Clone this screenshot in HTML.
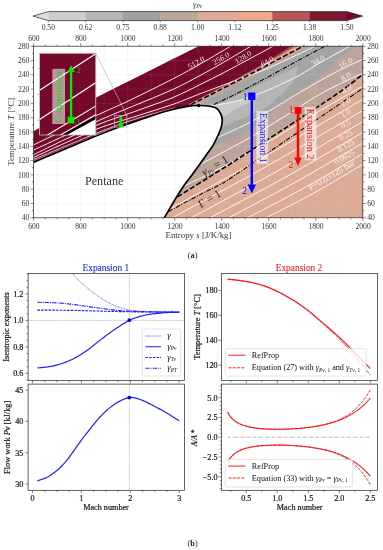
<!DOCTYPE html>
<html><head><meta charset="utf-8"><title>Pentane T-s diagram and expansions</title>
<style>html,body{margin:0;padding:0;background:#fff}svg{display:block}text{font-family:"Liberation Serif","DejaVu Serif",serif}</style></head><body>
<svg width="383" height="550" viewBox="0 0 383 550">
<rect width="383" height="550" fill="#fff"/>
<g>
<path d="M48.3,11.6 L32.9,16.1 L48.3,20.6 Z" fill="#dedede"/>
<rect x="48.3" y="11.6" width="37.62" height="9" fill="#cdcdcd"/>
<rect x="85.62" y="11.6" width="37.62" height="9" fill="#b6b6b6"/>
<rect x="122.95" y="11.6" width="37.62" height="9" fill="#a0a0a0"/>
<rect x="160.27" y="11.6" width="37.62" height="9" fill="#bca69b"/>
<rect x="197.6" y="11.6" width="37.62" height="9" fill="#dcac99"/>
<rect x="234.92" y="11.6" width="37.62" height="9" fill="#f0a88b"/>
<rect x="272.25" y="11.6" width="37.62" height="9" fill="#b5585a"/>
<rect x="309.57" y="11.6" width="37.62" height="9" fill="#80162f"/>
<path d="M346.9,11.6 L362.6,16.1 L346.9,20.6 Z" fill="#70062a"/>
<path d="M48.3,11.6 L346.9,11.6 L362.6,16.1 L346.9,20.6 L48.3,20.6 L32.9,16.1 Z" fill="none" stroke="#222" stroke-width="0.7" stroke-linejoin="miter"/>
<line x1="48.3" y1="20.6" x2="48.3" y2="22.6" stroke="#333" stroke-width="0.5"/>
<text x="48.3" y="30.2" font-size="7.6" text-anchor="middle" fill="#333">0.50</text>
<line x1="85.62" y1="20.6" x2="85.62" y2="22.6" stroke="#333" stroke-width="0.5"/>
<text x="85.62" y="30.2" font-size="7.6" text-anchor="middle" fill="#333">0.62</text>
<line x1="122.95" y1="20.6" x2="122.95" y2="22.6" stroke="#333" stroke-width="0.5"/>
<text x="122.95" y="30.2" font-size="7.6" text-anchor="middle" fill="#333">0.75</text>
<line x1="160.27" y1="20.6" x2="160.27" y2="22.6" stroke="#333" stroke-width="0.5"/>
<text x="160.27" y="30.2" font-size="7.6" text-anchor="middle" fill="#333">0.88</text>
<line x1="197.6" y1="20.6" x2="197.6" y2="22.6" stroke="#333" stroke-width="0.5"/>
<text x="197.6" y="30.2" font-size="7.6" text-anchor="middle" fill="#333">1.00</text>
<line x1="234.92" y1="20.6" x2="234.92" y2="22.6" stroke="#333" stroke-width="0.5"/>
<text x="234.92" y="30.2" font-size="7.6" text-anchor="middle" fill="#333">1.12</text>
<line x1="272.25" y1="20.6" x2="272.25" y2="22.6" stroke="#333" stroke-width="0.5"/>
<text x="272.25" y="30.2" font-size="7.6" text-anchor="middle" fill="#333">1.25</text>
<line x1="309.57" y1="20.6" x2="309.57" y2="22.6" stroke="#333" stroke-width="0.5"/>
<text x="309.57" y="30.2" font-size="7.6" text-anchor="middle" fill="#333">1.38</text>
<line x1="346.9" y1="20.6" x2="346.9" y2="22.6" stroke="#333" stroke-width="0.5"/>
<text x="346.9" y="30.2" font-size="7.6" text-anchor="middle" fill="#333">1.50</text>
<text x="193" y="6.8" font-size="8" font-style="italic" fill="#333">γ<tspan font-size="5.6" dy="1.6">Pv</tspan></text>
</g>
<defs><clipPath id="pc"><rect x="33.6" y="46.2" width="329.2" height="171.6"/></clipPath>
<linearGradient id="gr1" gradientUnits="userSpaceOnUse" x1="262" y1="56" x2="267" y2="65"><stop offset="0" stop-color="#67001f"/><stop offset="0.35" stop-color="#b2404a"/><stop offset="0.7" stop-color="#ee9f86"/><stop offset="1" stop-color="#e6bba9"/></linearGradient>
<clipPath id="nodome"><path clip-rule="evenodd" d="M0,0 H383 V550 H0 Z M33.6,162.2 C38.67,160.08 53.6,153.87 64,149.5 C74.4,145.13 87.33,139.53 96,136 C104.67,132.47 108.5,131.05 116,128.3 C123.5,125.55 132.67,122.33 141,119.5 C149.33,116.67 158.5,113.45 166,111.3 C173.5,109.15 180.58,107.57 186,106.6 C191.42,105.63 194.38,105.55 198.5,105.5 C202.62,105.45 207.62,105.78 210.7,106.3 C213.78,106.82 215.3,107.3 217,108.6 C218.7,109.9 220.02,112.13 220.9,114.1 C221.78,116.07 222.3,118.05 222.3,120.4 C222.3,122.75 221.67,125.6 220.9,128.2 C220.13,130.8 219.02,133.13 217.7,136 C216.38,138.87 214.7,142.52 213,145.4 C211.3,148.28 209.5,150.45 207.5,153.3 C205.5,156.15 203.29,159.3 201,162.5 C198.71,165.7 196.58,168.67 193.75,172.5 C190.92,176.33 186.96,181.25 184,185.5 C181.04,189.75 179.17,192.82 176,198 C172.83,203.18 166.97,213.27 165,216.6 C163.03,219.93 164.33,217.77 164.2,218 L33.6,218 Z"/></clipPath>
</defs>
<g stroke="#ececec" stroke-width="0.5">
<line x1="57.11" y1="46.2" x2="57.11" y2="217.8"/>
<line x1="80.63" y1="46.2" x2="80.63" y2="217.8"/>
<line x1="104.14" y1="46.2" x2="104.14" y2="217.8"/>
<line x1="127.66" y1="46.2" x2="127.66" y2="217.8"/>
<line x1="151.17" y1="46.2" x2="151.17" y2="217.8"/>
<line x1="174.69" y1="46.2" x2="174.69" y2="217.8"/>
<line x1="198.2" y1="46.2" x2="198.2" y2="217.8"/>
<line x1="221.71" y1="46.2" x2="221.71" y2="217.8"/>
<line x1="245.23" y1="46.2" x2="245.23" y2="217.8"/>
<line x1="268.74" y1="46.2" x2="268.74" y2="217.8"/>
<line x1="292.26" y1="46.2" x2="292.26" y2="217.8"/>
<line x1="315.77" y1="46.2" x2="315.77" y2="217.8"/>
<line x1="339.29" y1="46.2" x2="339.29" y2="217.8"/>
<line x1="33.6" y1="203.5" x2="362.8" y2="203.5"/>
<line x1="33.6" y1="189.2" x2="362.8" y2="189.2"/>
<line x1="33.6" y1="174.9" x2="362.8" y2="174.9"/>
<line x1="33.6" y1="160.6" x2="362.8" y2="160.6"/>
<line x1="33.6" y1="146.3" x2="362.8" y2="146.3"/>
<line x1="33.6" y1="132" x2="362.8" y2="132"/>
<line x1="33.6" y1="117.7" x2="362.8" y2="117.7"/>
<line x1="33.6" y1="103.4" x2="362.8" y2="103.4"/>
<line x1="33.6" y1="89.1" x2="362.8" y2="89.1"/>
<line x1="33.6" y1="74.8" x2="362.8" y2="74.8"/>
<line x1="33.6" y1="60.5" x2="362.8" y2="60.5"/>
</g>
<g clip-path="url(#pc)">
<path d="M198.5,105.5 C200.53,105.63 207.62,105.78 210.7,106.3 C213.78,106.82 215.3,107.3 217,108.6 C218.7,109.9 220.02,112.13 220.9,114.1 C221.78,116.07 222.3,118.05 222.3,120.4 C222.3,122.75 221.67,125.6 220.9,128.2 C220.13,130.8 219.02,133.13 217.7,136 C216.38,138.87 214.7,142.52 213,145.4 C211.3,148.28 209.5,150.45 207.5,153.3 C205.5,156.15 203.29,159.3 201,162.5 C198.71,165.7 196.58,168.67 193.75,172.5 C190.92,176.33 186.96,181.25 184,185.5 C181.04,189.75 179.17,192.82 176,198 C172.83,203.18 166.97,213.27 165,216.6 C163.03,219.93 164.33,217.77 164.2,218 L367.8,217.8 L367.8,41.2 L198.5,41.2 Z" fill="#dcab96"/>
<path d="M198.5,105.5 C200.53,105.63 207.62,105.78 210.7,106.3 C213.78,106.82 215.3,107.3 217,108.6 C218.7,109.9 220.02,112.13 220.9,114.1 C221.78,116.07 222.3,118.05 222.3,120.4 C222.3,122.75 221.67,125.6 220.9,128.2 C220.13,130.8 219.02,133.13 217.7,136 C216.38,138.87 214.7,142.52 213,145.4 C211.3,148.28 209.5,150.45 207.5,153.3 C205.5,156.15 203.29,159.3 201,162.5 C198.71,165.7 196.58,168.67 193.75,172.5 C190.92,176.33 186.96,181.25 184,185.5 C181.04,189.75 179.17,192.82 176,198 C172.83,203.18 166.83,213.5 165,216.6  L0,0 L0,0 Z" fill="none"/>
<path d="M198.5,105.5 C200.53,105.63 207.62,105.78 210.7,106.3 C213.78,106.82 215.3,107.3 217,108.6 C218.7,109.9 220.02,112.13 220.9,114.1 C221.78,116.07 222.3,118.05 222.3,120.4 C222.3,122.75 221.67,125.6 220.9,128.2 C220.13,130.8 219.02,133.13 217.7,136 C216.38,138.87 214.7,142.52 213,145.4 C211.3,148.28 209.5,150.45 207.5,153.3 C205.5,156.15 203.29,159.3 201,162.5 C198.71,165.7 196.58,168.67 193.75,172.5 C190.92,176.33 186.69,181.45 184,185.5 C181.31,189.55 178.67,194.92 177.6,196.8 L177.6,196.8 C184.67,192.38 210.43,176.3 220,170.3 C229.57,164.3 220.83,169.98 235,160.8 C249.17,151.62 287.5,126.7 305,115.2 C322.5,103.7 330.4,98.57 340,91.8 C349.6,85.03 357.6,78.4 362.6,74.6 C367.6,70.8 368.77,69.93 370,69 L370.8,40.2 L198.5,40.2 Z" fill="#bca49a"/>
<path d="M198.5,105.5 C200.53,105.63 207.62,105.78 210.7,106.3 C213.78,106.82 215.3,107.3 217,108.6 C218.7,109.9 220.02,112.13 220.9,114.1 C221.78,116.07 222.3,118.05 222.3,120.4 C222.3,122.75 221.67,125.6 220.9,128.2 C220.13,130.8 219.02,133.13 217.7,136 C216.38,138.87 213.87,143.57 213,145.4 C212.13,147.23 212.58,146.73 212.5,147 L212.5,147 C215.75,145.55 225.67,141.23 232,138.3 C238.33,135.37 244.67,133.03 250.5,129.4 C256.33,125.77 261.67,120.87 267,116.5 C272.33,112.13 277.83,106.93 282.5,103.2 C287.17,99.47 288.75,98.53 295,94.1 C301.25,89.67 312.83,82.37 320,76.6 C327.17,70.83 332.17,64.57 338,59.5 C343.83,54.43 351.33,49.15 355,46.2 C358.67,43.25 359.17,42.53 360,41.8 L310,42.5 L310,42.5 C308.83,43.12 308,43.57 303,46.2 C298,48.83 288.5,53.78 280,58.3 C271.5,62.82 261.83,68.13 252,73.3 C242.17,78.47 231.17,84.08 221,89.3 C210.83,94.52 196,102.05 191,104.6 Z" fill="#a4a4a4"/>
<path d="M191,104.6 C196,102.05 210.83,94.52 221,89.3 C231.17,84.08 242.17,78.47 252,73.3 C261.83,68.13 271.5,62.82 280,58.3 C288.5,53.78 298,48.83 303,46.2 C308,43.57 308.83,43.12 310,42.5 L318,42.5 C317,43.12 315,44.45 312,46.2 C309,47.95 311.17,47.12 300,53 C288.83,58.88 262.33,72.58 245,81.5 C227.67,90.42 204.17,102.33 196,106.5 Z" fill="#bca49a"/>
<path d="M212,106.2 C214.17,105.3 219.5,103.2 225,100.8 C230.5,98.4 237.5,95.3 245,91.8 C252.5,88.3 262.5,83.43 270,79.8 C277.5,76.17 285.42,72.3 290,70 C294.58,67.7 296.42,65.33 297.5,66 C298.58,66.67 297.42,71.17 296.5,74 C295.58,76.83 293.92,80.17 292,83 C290.08,85.83 287.62,88.37 285,91 C282.38,93.63 279.57,96.05 276.3,98.8 C273.03,101.55 269.78,104.8 265.4,107.5 C261.02,110.2 255.07,112.67 250,115 C244.93,117.33 239.67,119.58 235,121.5 C230.33,123.42 224.12,126.68 222,126.5 C219.88,126.32 222.48,122.47 222.3,120.4 C222.12,118.33 221.78,116.07 220.9,114.1 C220.02,112.13 217.65,109.52 217,108.6 Z" fill="#b5b5b5"/>
<path d="M214,106.6 C215.83,106.1 220.67,104.67 225,103.6 C229.33,102.53 234.5,101.55 240,100.2 C245.5,98.85 256,95.37 258,95.5 C260,95.63 255.33,98.92 252,101 C248.67,103.08 242.97,105.33 238,108 C233.03,110.67 225.05,115.98 222.2,117 C219.35,118.02 221.77,115.5 220.9,114.1 C220.03,112.7 217.65,109.52 217,108.6 Z" fill="#c9c9c9"/>
<path d="M189,104.2 C194.17,101.42 209.83,92.98 220,87.5 C230.17,82.02 240.83,76.47 250,71.3 C259.17,66.13 268.33,60.68 275,56.5 C281.67,52.32 286.5,48.62 290,46.2 C293.5,43.78 295,42.7 296,42 L297.82,42.06 C296.8,42.75 295.38,43.76 291.69,46.2 C288,48.64 282.55,52.51 275.65,56.73 C268.75,60.96 259.51,66.39 250.26,71.56 C241.01,76.73 230.3,82.29 220.13,87.73 C209.96,93.18 194.41,101.5 189.26,104.25 Z" fill="#831a34"/>
<path d="M189.2,104.24 C194.35,101.48 209.93,93.14 220.1,87.68 C230.27,82.22 240.97,76.67 250.2,71.5 C259.43,66.33 268.65,60.9 275.5,56.68 C282.35,52.46 287.65,48.64 291.3,46.2 C294.95,43.76 296.38,42.74 297.4,42.05 L299.22,42.12 C298.18,42.8 296.84,43.73 292.99,46.2 C289.14,48.67 283.24,52.65 276.15,56.91 C269.06,61.17 259.78,66.59 250.46,71.76 C241.14,76.93 230.4,82.49 220.23,87.91 C210.06,93.34 194.59,101.56 189.46,104.29 Z" fill="#983444"/>
<path d="M189.4,104.28 C194.53,101.54 210.03,93.29 220.2,87.86 C230.37,82.43 241.1,76.87 250.4,71.7 C259.7,66.53 268.97,61.11 276,56.86 C283.03,52.61 288.8,48.66 292.6,46.2 C296.4,43.74 297.77,42.78 298.8,42.1 L300.62,42.16 C299.56,42.84 298.29,43.71 294.29,46.2 C290.3,48.69 283.92,52.8 276.65,57.09 C269.38,61.39 260.05,66.79 250.66,71.96 C241.27,77.13 230.5,82.7 220.33,88.09 C210.16,93.49 194.77,101.63 189.66,104.33 Z" fill="#ae4f54"/>
<path d="M189.6,104.32 C194.72,101.61 210.13,93.44 220.3,88.04 C230.47,82.64 241.23,77.07 250.6,71.9 C259.97,66.73 269.28,61.32 276.5,57.04 C283.72,52.76 289.95,48.68 293.9,46.2 C297.85,43.72 299.15,42.83 300.2,42.15 L302.02,42.22 C300.95,42.88 299.73,43.69 295.59,46.2 C291.44,48.71 284.6,52.95 277.15,57.27 C269.69,61.6 260.31,66.99 250.86,72.16 C241.41,77.33 230.6,82.91 220.43,88.27 C210.26,93.64 194.96,101.69 189.86,104.37 Z" fill="#c16864"/>
<path d="M189.8,104.36 C194.9,101.67 210.23,93.6 220.4,88.22 C230.57,82.84 241.37,77.27 250.8,72.1 C260.23,66.93 269.6,61.54 277,57.22 C284.4,52.9 291.1,48.7 295.2,46.2 C299.3,43.7 300.53,42.87 301.6,42.2 L303.42,42.27 C302.33,42.92 301.19,43.67 296.89,46.2 C292.59,48.73 285.29,53.09 277.65,57.45 C270.01,61.81 260.58,67.19 251.06,72.36 C241.54,77.53 230.7,83.11 220.53,88.45 C210.36,93.8 195.14,101.75 190.06,104.41 Z" fill="#d38173"/>
<path d="M190,104.4 C195.08,101.73 210.33,93.75 220.5,88.4 C230.67,83.05 241.5,77.47 251,72.3 C260.5,67.13 269.92,61.75 277.5,57.4 C285.08,53.05 292.25,48.73 296.5,46.2 C300.75,43.68 301.92,42.91 303,42.25 L304.82,42.31 C303.71,42.96 302.63,43.65 298.19,46.2 C293.75,48.75 285.97,53.24 278.15,57.63 C270.33,62.03 260.85,67.39 251.26,72.56 C241.67,77.73 230.8,83.32 220.63,88.63 C210.46,93.95 195.32,101.82 190.26,104.45 Z" fill="#e69a83"/>
<path d="M190.2,104.44 C195.27,101.8 210.43,93.9 220.6,88.58 C230.77,83.26 241.63,77.67 251.2,72.5 C260.77,67.33 270.23,61.96 278,57.58 C285.77,53.2 293.4,48.75 297.8,46.2 C302.2,43.65 303.3,42.95 304.4,42.3 L306.22,42.37 C305.1,43 304.09,43.63 299.49,46.2 C294.89,48.77 286.65,53.39 278.65,57.81 C270.64,62.24 261.11,67.59 251.46,72.76 C241.81,77.93 230.9,83.53 220.73,88.81 C210.56,94.1 195.5,101.88 190.46,104.49 Z" fill="#f0ac90"/>
<path d="M190.4,104.48 C195.45,101.86 210.53,94.06 220.7,88.76 C230.87,83.46 241.77,77.87 251.4,72.7 C261.03,67.53 270.55,62.18 278.5,57.76 C286.45,53.34 294.55,48.77 299.1,46.2 C303.65,43.63 304.68,42.99 305.8,42.35 L307.62,42.41 C306.48,43.05 305.54,43.6 300.79,46.2 C296.05,48.8 287.34,53.53 279.15,57.99 C270.96,62.45 261.38,67.79 251.66,72.96 C241.94,78.13 231,83.73 220.83,88.99 C210.66,94.26 195.69,101.94 190.66,104.53 Z" fill="#f1b59b"/>
<path d="M190.6,104.52 C195.63,101.92 210.63,94.21 220.8,88.94 C230.97,83.67 241.9,78.07 251.6,72.9 C261.3,67.73 270.87,62.39 279,57.94 C287.13,53.49 295.7,48.79 300.4,46.2 C305.1,43.61 306.07,43.03 307.2,42.4 L309.02,42.47 C307.87,43.09 306.98,43.58 302.09,46.2 C297.19,48.82 288.02,53.68 279.65,58.17 C271.28,62.67 261.65,67.99 251.86,73.16 C242.07,78.33 231.1,83.94 220.93,89.17 C210.76,94.41 195.87,102.01 190.86,104.57 Z" fill="#f2bda5"/>
<path d="M190.8,104.56 C195.82,101.99 210.73,94.36 220.9,89.12 C231.07,83.88 242.03,78.27 251.8,73.1 C261.57,67.93 271.18,62.6 279.5,58.12 C287.82,53.64 296.85,48.81 301.7,46.2 C306.55,43.59 307.45,43.08 308.6,42.45 L310,42.5 C308.83,43.12 308,43.57 303,46.2 C298,48.83 288.5,53.78 280,58.3 C271.5,62.82 261.83,68.13 252,73.3 C242.17,78.47 231.17,84.08 221,89.3 C210.83,94.52 196,102.05 191,104.6 Z" fill="#f3c6b0"/>
<path d="M33.6,162.2 C38.67,160.08 53.6,153.87 64,149.5 C74.4,145.13 87.33,139.53 96,136 C104.67,132.47 108.5,131.05 116,128.3 C123.5,125.55 132.67,122.33 141,119.5 C149.33,116.67 158.5,113.45 166,111.3 C173.5,109.15 180.58,107.57 186,106.6 C191.42,105.63 196.42,105.68 198.5,105.5 L189,104.2 L189,104.2 C194.17,101.42 209.83,92.98 220,87.5 C230.17,82.02 240.83,76.47 250,71.3 C259.17,66.13 268.33,60.68 275,56.5 C281.67,52.32 286.5,48.62 290,46.2 C293.5,43.78 295,42.7 296,42 L206,42.5 C204.75,43.12 207.83,41.53 198.5,46.2 C189.17,50.87 167.03,61.93 150,70.5 C132.97,79.07 115.7,87.47 96.3,97.6 C76.9,107.73 44.05,125.68 33.6,131.3 Z" fill="#75092a"/>
<g fill="none" stroke="#fff" stroke-width="1.0" stroke-opacity="0.9" stroke-linecap="butt" clip-path="url(#nodome)">
<path d="M262.6,219.78 C263.6,219.25 259.77,221.21 268.6,216.6 C277.43,211.99 299.93,200.8 315.6,192.1 C331.27,183.4 354.1,169.42 362.6,164.4 C371.1,159.38 365.93,162.4 366.6,162"/>
<path d="M243.8,219.78 C244.8,219.25 239.4,222.1 249.8,216.6 C260.2,211.1 287.4,197.27 306.2,186.8 C325,176.33 352.53,159.7 362.6,153.8 C372.67,147.9 365.93,151.8 366.6,151.4"/>
<path d="M225,219.78 C226,219.25 219.03,222.99 231,216.6 C242.97,210.21 274.87,193.7 296.8,181.45 C318.73,169.2 350.97,149.89 362.6,143.1 C374.23,136.31 365.93,141.1 366.6,140.7"/>
<path d="M206.2,219.78 C207.2,219.25 198.67,223.87 212.2,216.6 C225.73,209.33 262.33,190.17 287.4,176.15 C312.47,162.13 349.4,140.18 362.6,132.5 C375.8,124.83 365.93,130.5 366.6,130.1"/>
<path d="M187.4,219.78 C188.4,219.25 178.3,224.78 193.4,216.6 C208.5,208.42 249.8,186.53 278,170.7 C306.2,154.87 347.83,130.18 362.6,121.6 C377.37,113.02 365.93,119.6 366.6,119.2"/>
<path d="M168.6,219.78 C169.6,219.25 157.93,225.7 174.6,216.6 C191.27,207.5 237.27,182.87 268.6,165.2 C299.93,147.53 346.27,120.1 362.6,110.6 C378.93,101.1 365.93,108.6 366.6,108.2"/>
<path d="M149.8,219.78 C150.8,219.25 137.57,226.62 155.8,216.6 C174.03,206.58 224.73,179.17 259.2,159.65 C293.67,140.13 344.7,109.92 362.6,99.5 C380.5,89.08 365.93,97.5 366.6,97.1"/>
<path d="M180,188 C181.17,187.42 183.33,186.27 187,184.5 C190.67,182.73 194.83,180.98 202,177.4 C209.17,173.82 218.67,169.1 230,163 C241.33,156.9 258.33,147.55 270,140.8 C281.67,134.05 288.33,129.47 300,122.5 C311.67,115.53 329.57,105.03 340,99 C350.43,92.97 357.93,88.97 362.6,86.3 C367.27,83.63 367.1,83.55 368,83"/>
<path d="M192,168.5 C193.57,167.72 196.73,166.25 201.4,163.8 C206.07,161.35 211.82,158.23 220,153.8 C228.18,149.37 238.83,144 250.5,137.2 C262.17,130.4 277.78,120.53 290,113 C302.22,105.47 311.7,98.63 323.8,92 C335.9,85.37 355.23,76.78 362.6,73.2 C369.97,69.62 367.1,70.95 368,70.5"/>
<path d="M205,143.5 C207.05,142.53 209.72,141.27 217.3,137.7 C224.88,134.13 240.88,127.13 250.5,122.1 C260.12,117.07 266.75,112.47 275,107.5 C283.25,102.53 290,98.13 300,92.3 C310,86.47 324.57,77.98 335,72.5 C345.43,67.02 357.1,62.02 362.6,59.4 C368.1,56.78 367.1,57.23 368,56.8"/>
<path d="M198.5,105.3 C200.42,105.32 206.87,105.45 210,105.4 C213.13,105.35 213.97,105.52 217.3,105 C220.63,104.48 225.62,103.25 230,102.3 C234.38,101.35 236.93,101.47 243.6,99.3 C250.27,97.13 263.02,92.18 270,89.3 C276.98,86.42 280.5,84.38 285.5,82 C290.5,79.62 293.92,78.4 300,75 C306.08,71.6 313.62,66.43 322,61.6 C330.38,56.77 344.8,49.1 350.3,46 C355.8,42.9 354.22,43.5 355,43"/>
<path d="M33.6,157.4 C39,154.93 54.93,147.53 66,142.6 C77.07,137.67 90,131.67 100,127.8 C110,123.93 117.67,122.07 126,119.4 C134.33,116.73 142,114.37 150,111.8 C158,109.23 165.67,107 174,104 C182.33,101 190.4,97.47 200,93.8 C209.6,90.13 220.77,86.07 231.6,82 C242.43,77.93 253.6,74.15 265,69.4 C276.4,64.65 291.62,57.4 300,53.5 C308.38,49.6 311.97,47.67 315.3,46 C318.63,44.33 319.22,43.92 320,43.5"/>
<path d="M33.6,154.7 C39,152.08 54.93,144.15 66,139 C77.07,133.85 90,127.87 100,123.8 C110,119.73 117.67,117.57 126,114.6 C134.33,111.63 142,108.92 150,106 C158,103.08 165.67,100.67 174,97.1 C182.33,93.53 191.5,88.78 200,84.6 C208.5,80.42 216.67,76.33 225,72 C233.33,67.67 241.92,62.93 250,58.6 C258.08,54.27 268.67,48.6 273.5,46 C278.33,43.4 278.08,43.5 279,43"/>
<path d="M33.6,150.1 C39,147.58 54.93,140.02 66,135 C77.07,129.98 90,124.33 100,120 C110,115.67 117.67,112.47 126,109 C134.33,105.53 142,102.55 150,99.2 C158,95.85 165.67,92.83 174,88.9 C182.33,84.97 191.5,80.17 200,75.6 C208.5,71.03 216.38,66.48 225,61.5 C233.62,56.52 246.37,48.83 251.7,45.7 C257.03,42.57 256.12,43.2 257,42.7"/>
<path d="M33.6,144.9 C39,142.32 54.93,134.58 66,129.4 C77.07,124.22 90,118.35 100,113.8 C110,109.25 117.67,106 126,102.1 C134.33,98.2 142,94.37 150,90.4 C158,86.43 166.5,82.2 174,78.3 C181.5,74.4 185.4,72.43 195,67 C204.6,61.57 224.6,49.75 231.6,45.7 C238.6,41.65 236.1,43.2 237,42.7"/>
<path d="M33.6,159.3 C39,157.08 54.93,150.58 66,146 C77.07,141.42 90,135.77 100,131.8 C110,127.83 117.67,125.07 126,122.2 C134.33,119.33 141.83,116.97 150,114.6 C158.17,112.23 170.83,109.1 175,108" stroke-width="0.8"/>
<path d="M33.6,160.7 C39,158.55 54.93,152.32 66,147.8 C77.07,143.28 94.33,135.97 100,133.6" stroke-width="0.6"/>
</g>
<path d="M191,104.6 C196,102.05 210.83,94.52 221,89.3 C231.17,84.08 242.17,78.47 252,73.3 C261.83,68.13 271.5,62.82 280,58.3 C288.5,53.78 298,48.83 303,46.2 C308,43.57 308.83,43.12 310,42.5" fill="none" stroke="#000" stroke-width="1.55" stroke-dasharray="5.2,2.2"/>
<path d="M177.6,196.8 C184.67,192.38 210.43,176.3 220,170.3 C229.57,164.3 220.83,169.98 235,160.8 C249.17,151.62 287.5,126.7 305,115.2 C322.5,103.7 330.4,98.57 340,91.8 C349.6,85.03 357.6,78.4 362.6,74.6 C367.6,70.8 368.77,69.93 370,69" fill="none" stroke="#000" stroke-width="1.55" stroke-dasharray="5.2,2.2"/>
<path d="M214,104.5 C219.17,101.97 230.67,96.8 245,89.3 C259.33,81.8 286.67,66.68 300,59.5 C313.33,52.32 319.5,49.12 325,46.2 C330.5,43.28 331.67,42.7 333,42" fill="none" stroke="#000" stroke-width="1.05" stroke-dasharray="4.6,1.5,1,1.5"/>
<path d="M168.5,211.5 C173.75,208.68 191.42,199.08 200,194.6 C208.58,190.12 214.17,187.83 220,184.6 C225.83,181.37 220.83,184.72 235,175.2 C249.17,165.68 283.73,141.93 305,127.5 C326.27,113.07 351.77,95.92 362.6,88.6 C373.43,81.28 368.77,84.43 370,83.6" fill="none" stroke="#000" stroke-width="1.05" stroke-dasharray="4.6,1.5,1,1.5"/>
</g>
<g stroke="#fff" stroke-opacity="0.16" stroke-width="0.5" clip-path="url(#pc)">
<line x1="57.11" y1="46.2" x2="57.11" y2="217.8"/>
<line x1="80.63" y1="46.2" x2="80.63" y2="217.8"/>
<line x1="104.14" y1="46.2" x2="104.14" y2="217.8"/>
<line x1="127.66" y1="46.2" x2="127.66" y2="217.8"/>
<line x1="151.17" y1="46.2" x2="151.17" y2="217.8"/>
<line x1="174.69" y1="46.2" x2="174.69" y2="217.8"/>
<line x1="198.2" y1="46.2" x2="198.2" y2="217.8"/>
<line x1="221.71" y1="46.2" x2="221.71" y2="217.8"/>
<line x1="245.23" y1="46.2" x2="245.23" y2="217.8"/>
<line x1="268.74" y1="46.2" x2="268.74" y2="217.8"/>
<line x1="292.26" y1="46.2" x2="292.26" y2="217.8"/>
<line x1="315.77" y1="46.2" x2="315.77" y2="217.8"/>
<line x1="339.29" y1="46.2" x2="339.29" y2="217.8"/>
<line x1="33.6" y1="203.5" x2="362.8" y2="203.5"/>
<line x1="33.6" y1="189.2" x2="362.8" y2="189.2"/>
<line x1="33.6" y1="174.9" x2="362.8" y2="174.9"/>
<line x1="33.6" y1="160.6" x2="362.8" y2="160.6"/>
<line x1="33.6" y1="146.3" x2="362.8" y2="146.3"/>
<line x1="33.6" y1="132" x2="362.8" y2="132"/>
<line x1="33.6" y1="117.7" x2="362.8" y2="117.7"/>
<line x1="33.6" y1="103.4" x2="362.8" y2="103.4"/>
<line x1="33.6" y1="89.1" x2="362.8" y2="89.1"/>
<line x1="33.6" y1="74.8" x2="362.8" y2="74.8"/>
<line x1="33.6" y1="60.5" x2="362.8" y2="60.5"/>
</g>
<path d="M33.6,162.2 C38.67,160.08 53.6,153.87 64,149.5 C74.4,145.13 87.33,139.53 96,136 C104.67,132.47 108.5,131.05 116,128.3 C123.5,125.55 132.67,122.33 141,119.5 C149.33,116.67 158.5,113.45 166,111.3 C173.5,109.15 180.58,107.57 186,106.6 C191.42,105.63 194.38,105.55 198.5,105.5 C202.62,105.45 207.62,105.78 210.7,106.3 C213.78,106.82 215.3,107.3 217,108.6 C218.7,109.9 220.02,112.13 220.9,114.1 C221.78,116.07 222.3,118.05 222.3,120.4 C222.3,122.75 221.67,125.6 220.9,128.2 C220.13,130.8 219.02,133.13 217.7,136 C216.38,138.87 214.7,142.52 213,145.4 C211.3,148.28 209.5,150.45 207.5,153.3 C205.5,156.15 203.29,159.3 201,162.5 C198.71,165.7 196.58,168.67 193.75,172.5 C190.92,176.33 186.96,181.25 184,185.5 C181.04,189.75 179.17,192.82 176,198 C172.83,203.18 166.97,213.27 165,216.6 C163.03,219.93 164.33,217.77 164.2,218" fill="none" stroke="#000" stroke-width="1.7" stroke-linejoin="round" clip-path="url(#pc)"/>
<circle cx="198.6" cy="105.5" r="1.7" fill="#000"/>
<text x="333" y="177.6" font-size="8.6" fill="#fff" fill-opacity="0.9" text-anchor="middle" textLength="52" lengthAdjust="spacingAndGlyphs" transform="rotate(-30.5 333 177.6)">P=0.03125 bar</text>
<text x="345.6" y="159.6" font-size="8" fill="#fff" fill-opacity="0.85" text-anchor="middle" transform="rotate(-30 345.6 159.6)">0.0625</text>
<text x="347.2" y="148" font-size="8" fill="#fff" fill-opacity="0.85" text-anchor="middle" transform="rotate(-30 347.2 148)">0.125</text>
<text x="347.2" y="137.4" font-size="8" fill="#fff" fill-opacity="0.85" text-anchor="middle" transform="rotate(-30 347.2 137.4)">0.25</text>
<text x="347.2" y="126.5" font-size="8" fill="#fff" fill-opacity="0.85" text-anchor="middle" transform="rotate(-30 347.2 126.5)">0.5</text>
<text x="347.2" y="115.5" font-size="8" fill="#fff" fill-opacity="0.85" text-anchor="middle" transform="rotate(-30 347.2 115.5)">1.0</text>
<text x="347.2" y="104.4" font-size="8" fill="#fff" fill-opacity="0.85" text-anchor="middle" transform="rotate(-30 347.2 104.4)">2.0</text>
<text x="348" y="91.8" font-size="8" fill="#fff" fill-opacity="0.85" text-anchor="middle" transform="rotate(-31 348 91.8)">4.0</text>
<text x="347.5" y="79" font-size="8.2" fill="#fff" fill-opacity="0.85" text-anchor="middle" transform="rotate(-31 347.5 79)">8.0</text>
<text x="347" y="65.5" font-size="8.4" fill="#fff" fill-opacity="0.85" text-anchor="middle" transform="rotate(-31 347 65.5)">16.0</text>
<text x="319.5" y="63" font-size="8" fill="#fff" fill-opacity="0.85" text-anchor="middle" transform="rotate(-31 319.5 63)">34.0</text>
<text x="268.5" y="64" font-size="8" fill="#fff" fill-opacity="0.85" text-anchor="middle" transform="rotate(-30 268.5 64)">64.0</text>
<text x="244.5" y="59.5" font-size="8" fill="#fff" fill-opacity="0.85" text-anchor="middle" transform="rotate(-30 244.5 59.5)">128.0</text>
<text x="222.3" y="60.8" font-size="8" fill="#fff" fill-opacity="0.85" text-anchor="middle" transform="rotate(-30 222.3 60.8)">256.0</text>
<text x="197.5" y="65" font-size="8" fill="#fff" fill-opacity="0.85" text-anchor="middle" transform="rotate(-30 197.5 65)">512.0</text>
<text x="216.8" y="168.8" font-size="11.4" fill="#222" fill-opacity="1" text-anchor="middle" transform="rotate(-31.5 216.8 168.8)"><tspan font-style="italic">γ</tspan><tspan font-size="6" dy="1.5" font-style="italic">Pv</tspan><tspan dy="-1.5"> = 1</tspan></text>
<text x="211.5" y="201.8" font-size="11.4" fill="#222" fill-opacity="1" text-anchor="middle" transform="rotate(-31.5 211.5 201.8)">Γ = 1</text>
<text x="104.2" y="185.2" font-size="12.2" fill="#333" text-anchor="middle" textLength="38.4" lengthAdjust="spacingAndGlyphs">Pentane</text>
<rect x="256.4" y="110.8" width="11.4" height="53" fill="#fff" fill-opacity="0.6"/>
<line x1="251.8" y1="96" x2="251.8" y2="186" stroke="#0000ff" stroke-width="2.4"/>
<path d="M247.6,184.6 L256,184.6 L251.8,193.6 Z" fill="#0000ff"/>
<rect x="248.2" y="92.5" width="7.2" height="7.4" fill="#0000ff"/>
<text x="245.2" y="99.6" font-size="9.6" fill="#0000ff" text-anchor="middle">1</text>
<text x="244.6" y="194.2" font-size="9.6" fill="#0000ff" text-anchor="middle">2</text>
<text transform="translate(259.7 137.8) rotate(90)" font-size="10" fill="#0000ff" fill-opacity="0.92" text-anchor="middle" textLength="50" lengthAdjust="spacingAndGlyphs">Expansion 1</text>
<rect x="304.6" y="106.8" width="11.8" height="53.4" fill="#fff" fill-opacity="0.6"/>
<line x1="298" y1="110" x2="298" y2="159" stroke="#ff0000" stroke-width="2.4"/>
<path d="M294.2,157.6 L301.8,157.6 L298,166 Z" fill="#ff0000"/>
<rect x="294.6" y="107" width="6.8" height="6.8" fill="#ff0000"/>
<text x="291.2" y="113.2" font-size="9.6" fill="#ff0000" text-anchor="middle">1</text>
<text x="290.8" y="167.8" font-size="9.6" fill="#ff0000" text-anchor="middle">2</text>
<text transform="translate(307 134) rotate(90)" font-size="10" fill="#ff0000" fill-opacity="0.92" text-anchor="middle" textLength="51" lengthAdjust="spacingAndGlyphs">Expansion 2</text>
<g fill="none" stroke="#b8b8b8" stroke-width="0.7">
<rect x="114.6" y="115.4" width="12.2" height="11.8"/>
<line x1="95.8" y1="53.2" x2="126.8" y2="115.4"/><line x1="95.8" y1="135" x2="114.6" y2="127.2"/>
</g>
<line x1="121" y1="119.5" x2="121" y2="126" stroke="#00ee00" stroke-width="1.5"/>
<path d="M118.7,120.2 L123.3,120.2 L121,115.7 Z" fill="#00ee00"/>
<rect x="118.8" y="122.6" width="4.4" height="4.4" fill="#00ee00"/>
<defs><clipPath id="ic"><rect x="39.6" y="53.2" width="56.2" height="81.8"/></clipPath></defs>
<rect x="39.6" y="53.2" width="56.2" height="81.8" fill="#fff"/>
<g clip-path="url(#ic)">
<path d="M39.6,53.2 L95.8,53.2 L95.8,117.7 L64.5,135 L39.6,135 Z" fill="#75092a"/>
<g stroke="#fff" stroke-width="1.15" fill="none">
<line x1="39.6" y1="90.2" x2="96.5" y2="53.2"/>
<line x1="39.6" y1="119.4" x2="96" y2="82.5"/>
<line x1="45" y1="136.5" x2="96" y2="105.9"/>
<line x1="58" y1="136.5" x2="96" y2="114.6"/>
</g>
<path d="M62,136.3 L97,117" stroke="#000" stroke-width="2.4" fill="none"/>
</g>
<rect x="52.3" y="68.8" width="12.8" height="55.2" fill="#fff" fill-opacity="0.55"/>
<text transform="translate(62 96.4) rotate(-90)" font-size="11.4" fill="#19e019" text-anchor="middle" textLength="52.5" lengthAdjust="spacingAndGlyphs">Compressor</text>
<line x1="71.1" y1="70.5" x2="71.1" y2="120" stroke="#00ee00" stroke-width="2.3"/>
<path d="M67.5,72 L74.7,72 L71.1,65.2 Z" fill="#00ee00"/>
<rect x="67.7" y="116.8" width="6.6" height="6.6" fill="#00ee00"/>
<text x="78.8" y="73.2" font-size="9" fill="#22a822" text-anchor="middle">2</text>
<text x="78.4" y="124.8" font-size="9" fill="#22a822" text-anchor="middle">1</text>
<g stroke="#666" stroke-width="0.5"><line x1="37.6" y1="68.4" x2="39.6" y2="68.4"/><line x1="37.6" y1="94.3" x2="39.6" y2="94.3"/><line x1="37.6" y1="120.2" x2="39.6" y2="120.2"/><line x1="45.9" y1="135" x2="45.9" y2="136.8"/><line x1="74" y1="135" x2="74" y2="136.8"/></g>
<rect x="39.6" y="53.2" width="56.2" height="81.8" fill="none" stroke="#b8b8b8" stroke-width="0.8"/>
<rect x="33.6" y="46.2" width="329.2" height="171.6" fill="none" stroke="#222" stroke-width="0.7"/>
<g stroke="#222" stroke-width="0.5">
<line x1="33.6" y1="46.2" x2="33.6" y2="43.2"/>
<line x1="33.6" y1="217.8" x2="33.6" y2="220.8"/>
<line x1="45.36" y1="46.2" x2="45.36" y2="44.6"/>
<line x1="45.36" y1="217.8" x2="45.36" y2="219.4"/>
<line x1="57.11" y1="46.2" x2="57.11" y2="44.6"/>
<line x1="57.11" y1="217.8" x2="57.11" y2="219.4"/>
<line x1="68.87" y1="46.2" x2="68.87" y2="44.6"/>
<line x1="68.87" y1="217.8" x2="68.87" y2="219.4"/>
<line x1="80.63" y1="46.2" x2="80.63" y2="43.2"/>
<line x1="80.63" y1="217.8" x2="80.63" y2="220.8"/>
<line x1="92.39" y1="46.2" x2="92.39" y2="44.6"/>
<line x1="92.39" y1="217.8" x2="92.39" y2="219.4"/>
<line x1="104.14" y1="46.2" x2="104.14" y2="44.6"/>
<line x1="104.14" y1="217.8" x2="104.14" y2="219.4"/>
<line x1="115.9" y1="46.2" x2="115.9" y2="44.6"/>
<line x1="115.9" y1="217.8" x2="115.9" y2="219.4"/>
<line x1="127.66" y1="46.2" x2="127.66" y2="43.2"/>
<line x1="127.66" y1="217.8" x2="127.66" y2="220.8"/>
<line x1="139.41" y1="46.2" x2="139.41" y2="44.6"/>
<line x1="139.41" y1="217.8" x2="139.41" y2="219.4"/>
<line x1="151.17" y1="46.2" x2="151.17" y2="44.6"/>
<line x1="151.17" y1="217.8" x2="151.17" y2="219.4"/>
<line x1="162.93" y1="46.2" x2="162.93" y2="44.6"/>
<line x1="162.93" y1="217.8" x2="162.93" y2="219.4"/>
<line x1="174.69" y1="46.2" x2="174.69" y2="43.2"/>
<line x1="174.69" y1="217.8" x2="174.69" y2="220.8"/>
<line x1="186.44" y1="46.2" x2="186.44" y2="44.6"/>
<line x1="186.44" y1="217.8" x2="186.44" y2="219.4"/>
<line x1="198.2" y1="46.2" x2="198.2" y2="44.6"/>
<line x1="198.2" y1="217.8" x2="198.2" y2="219.4"/>
<line x1="209.96" y1="46.2" x2="209.96" y2="44.6"/>
<line x1="209.96" y1="217.8" x2="209.96" y2="219.4"/>
<line x1="221.71" y1="46.2" x2="221.71" y2="43.2"/>
<line x1="221.71" y1="217.8" x2="221.71" y2="220.8"/>
<line x1="233.47" y1="46.2" x2="233.47" y2="44.6"/>
<line x1="233.47" y1="217.8" x2="233.47" y2="219.4"/>
<line x1="245.23" y1="46.2" x2="245.23" y2="44.6"/>
<line x1="245.23" y1="217.8" x2="245.23" y2="219.4"/>
<line x1="256.99" y1="46.2" x2="256.99" y2="44.6"/>
<line x1="256.99" y1="217.8" x2="256.99" y2="219.4"/>
<line x1="268.74" y1="46.2" x2="268.74" y2="43.2"/>
<line x1="268.74" y1="217.8" x2="268.74" y2="220.8"/>
<line x1="280.5" y1="46.2" x2="280.5" y2="44.6"/>
<line x1="280.5" y1="217.8" x2="280.5" y2="219.4"/>
<line x1="292.26" y1="46.2" x2="292.26" y2="44.6"/>
<line x1="292.26" y1="217.8" x2="292.26" y2="219.4"/>
<line x1="304.01" y1="46.2" x2="304.01" y2="44.6"/>
<line x1="304.01" y1="217.8" x2="304.01" y2="219.4"/>
<line x1="315.77" y1="46.2" x2="315.77" y2="43.2"/>
<line x1="315.77" y1="217.8" x2="315.77" y2="220.8"/>
<line x1="327.53" y1="46.2" x2="327.53" y2="44.6"/>
<line x1="327.53" y1="217.8" x2="327.53" y2="219.4"/>
<line x1="339.29" y1="46.2" x2="339.29" y2="44.6"/>
<line x1="339.29" y1="217.8" x2="339.29" y2="219.4"/>
<line x1="351.04" y1="46.2" x2="351.04" y2="44.6"/>
<line x1="351.04" y1="217.8" x2="351.04" y2="219.4"/>
<line x1="362.8" y1="46.2" x2="362.8" y2="43.2"/>
<line x1="362.8" y1="217.8" x2="362.8" y2="220.8"/>
<line x1="33.6" y1="217.8" x2="30.6" y2="217.8"/>
<line x1="362.8" y1="217.8" x2="365.8" y2="217.8"/>
<line x1="33.6" y1="210.65" x2="32" y2="210.65"/>
<line x1="362.8" y1="210.65" x2="364.4" y2="210.65"/>
<line x1="33.6" y1="203.5" x2="30.6" y2="203.5"/>
<line x1="362.8" y1="203.5" x2="365.8" y2="203.5"/>
<line x1="33.6" y1="196.35" x2="32" y2="196.35"/>
<line x1="362.8" y1="196.35" x2="364.4" y2="196.35"/>
<line x1="33.6" y1="189.2" x2="30.6" y2="189.2"/>
<line x1="362.8" y1="189.2" x2="365.8" y2="189.2"/>
<line x1="33.6" y1="182.05" x2="32" y2="182.05"/>
<line x1="362.8" y1="182.05" x2="364.4" y2="182.05"/>
<line x1="33.6" y1="174.9" x2="30.6" y2="174.9"/>
<line x1="362.8" y1="174.9" x2="365.8" y2="174.9"/>
<line x1="33.6" y1="167.75" x2="32" y2="167.75"/>
<line x1="362.8" y1="167.75" x2="364.4" y2="167.75"/>
<line x1="33.6" y1="160.6" x2="30.6" y2="160.6"/>
<line x1="362.8" y1="160.6" x2="365.8" y2="160.6"/>
<line x1="33.6" y1="153.45" x2="32" y2="153.45"/>
<line x1="362.8" y1="153.45" x2="364.4" y2="153.45"/>
<line x1="33.6" y1="146.3" x2="30.6" y2="146.3"/>
<line x1="362.8" y1="146.3" x2="365.8" y2="146.3"/>
<line x1="33.6" y1="139.15" x2="32" y2="139.15"/>
<line x1="362.8" y1="139.15" x2="364.4" y2="139.15"/>
<line x1="33.6" y1="132" x2="30.6" y2="132"/>
<line x1="362.8" y1="132" x2="365.8" y2="132"/>
<line x1="33.6" y1="124.85" x2="32" y2="124.85"/>
<line x1="362.8" y1="124.85" x2="364.4" y2="124.85"/>
<line x1="33.6" y1="117.7" x2="30.6" y2="117.7"/>
<line x1="362.8" y1="117.7" x2="365.8" y2="117.7"/>
<line x1="33.6" y1="110.55" x2="32" y2="110.55"/>
<line x1="362.8" y1="110.55" x2="364.4" y2="110.55"/>
<line x1="33.6" y1="103.4" x2="30.6" y2="103.4"/>
<line x1="362.8" y1="103.4" x2="365.8" y2="103.4"/>
<line x1="33.6" y1="96.25" x2="32" y2="96.25"/>
<line x1="362.8" y1="96.25" x2="364.4" y2="96.25"/>
<line x1="33.6" y1="89.1" x2="30.6" y2="89.1"/>
<line x1="362.8" y1="89.1" x2="365.8" y2="89.1"/>
<line x1="33.6" y1="81.95" x2="32" y2="81.95"/>
<line x1="362.8" y1="81.95" x2="364.4" y2="81.95"/>
<line x1="33.6" y1="74.8" x2="30.6" y2="74.8"/>
<line x1="362.8" y1="74.8" x2="365.8" y2="74.8"/>
<line x1="33.6" y1="67.65" x2="32" y2="67.65"/>
<line x1="362.8" y1="67.65" x2="364.4" y2="67.65"/>
<line x1="33.6" y1="60.5" x2="30.6" y2="60.5"/>
<line x1="362.8" y1="60.5" x2="365.8" y2="60.5"/>
<line x1="33.6" y1="53.35" x2="32" y2="53.35"/>
<line x1="362.8" y1="53.35" x2="364.4" y2="53.35"/>
<line x1="33.6" y1="46.2" x2="30.6" y2="46.2"/>
<line x1="362.8" y1="46.2" x2="365.8" y2="46.2"/>
</g>
<g font-size="7.6" fill="#333">
<text x="33.9" y="40.6" text-anchor="middle">600</text>
<text x="33.9" y="228.6" text-anchor="middle">600</text>
<text x="80.93" y="40.6" text-anchor="middle">800</text>
<text x="80.93" y="228.6" text-anchor="middle">800</text>
<text x="127.96" y="40.6" text-anchor="middle">1000</text>
<text x="127.96" y="228.6" text-anchor="middle">1000</text>
<text x="174.99" y="40.6" text-anchor="middle">1200</text>
<text x="174.99" y="228.6" text-anchor="middle">1200</text>
<text x="222.01" y="40.6" text-anchor="middle">1400</text>
<text x="222.01" y="228.6" text-anchor="middle">1400</text>
<text x="269.04" y="40.6" text-anchor="middle">1600</text>
<text x="269.04" y="228.6" text-anchor="middle">1600</text>
<text x="316.07" y="40.6" text-anchor="middle">1800</text>
<text x="316.07" y="228.6" text-anchor="middle">1800</text>
<text x="363.1" y="40.6" text-anchor="middle">2000</text>
<text x="363.1" y="228.6" text-anchor="middle">2000</text>
<text x="29.4" y="220.4" text-anchor="end">40</text>
<text x="367.2" y="220.4" text-anchor="start">40</text>
<text x="29.4" y="206.1" text-anchor="end">60</text>
<text x="367.2" y="206.1" text-anchor="start">60</text>
<text x="29.4" y="191.8" text-anchor="end">80</text>
<text x="367.2" y="191.8" text-anchor="start">80</text>
<text x="29.4" y="177.5" text-anchor="end">100</text>
<text x="367.2" y="177.5" text-anchor="start">100</text>
<text x="29.4" y="163.2" text-anchor="end">120</text>
<text x="367.2" y="163.2" text-anchor="start">120</text>
<text x="29.4" y="148.9" text-anchor="end">140</text>
<text x="367.2" y="148.9" text-anchor="start">140</text>
<text x="29.4" y="134.6" text-anchor="end">160</text>
<text x="367.2" y="134.6" text-anchor="start">160</text>
<text x="29.4" y="120.3" text-anchor="end">180</text>
<text x="367.2" y="120.3" text-anchor="start">180</text>
<text x="29.4" y="106" text-anchor="end">200</text>
<text x="367.2" y="106" text-anchor="start">200</text>
<text x="29.4" y="91.7" text-anchor="end">220</text>
<text x="367.2" y="91.7" text-anchor="start">220</text>
<text x="29.4" y="77.4" text-anchor="end">240</text>
<text x="367.2" y="77.4" text-anchor="start">240</text>
<text x="29.4" y="63.1" text-anchor="end">260</text>
<text x="367.2" y="63.1" text-anchor="start">260</text>
<text x="29.4" y="48.8" text-anchor="end">280</text>
<text x="367.2" y="48.8" text-anchor="start">280</text>
</g>
<text x="198.5" y="237.8" font-size="8.4" fill="#333" text-anchor="middle" textLength="66" lengthAdjust="spacingAndGlyphs">Entropy <tspan font-style="italic">s</tspan> [J/K/kg]</text>
<text transform="translate(14 131.8) rotate(-90)" font-size="8.4" fill="#333" text-anchor="middle" textLength="68" lengthAdjust="spacingAndGlyphs">Temperature <tspan font-style="italic">T</tspan> [°C]</text>
<text x="192.6" y="257.5" font-size="8.2" fill="#222" text-anchor="middle">(<tspan font-weight="bold">a</tspan>)</text>
<defs>
<clipPath id="c1"><rect x="28.1" y="273.5" width="156.4" height="107"/></clipPath>
<clipPath id="c2"><rect x="28.1" y="384.1" width="156.4" height="106.2"/></clipPath>
<clipPath id="c3"><rect x="221.4" y="273.5" width="156.1" height="107"/></clipPath>
<clipPath id="c4"><rect x="221.4" y="384.1" width="156.1" height="106.2"/></clipPath>
</defs>
<g clip-path="url(#c1)" fill="none">
<line x1="28.1" y1="320.4" x2="184.5" y2="320.4" stroke="#777" stroke-width="0.6" stroke-dasharray="0.8,0.9"/>
<line x1="129.3" y1="273.5" x2="129.3" y2="380.5" stroke="#777" stroke-width="0.6" stroke-dasharray="0.8,0.9"/>
<path d="M69.17,267.4 L69.33,267.69 L69.51,268.06 L69.72,268.48 L69.95,268.96 L70.21,269.48 L70.49,270.03 L70.79,270.61 L71.11,271.2 L71.46,271.8 L71.82,272.4 L72.2,272.98 L72.6,273.55 L73.03,274.11 L73.49,274.7 L73.99,275.3 L74.52,275.92 L75.06,276.54 L75.62,277.17 L76.19,277.79 L76.76,278.4 L77.33,279 L77.89,279.57 L78.43,280.13 L78.95,280.65 L79.46,281.14 L79.94,281.59 L80.42,282.03 L80.89,282.44 L81.36,282.83 L81.83,283.22 L82.3,283.61 L82.78,283.99 L83.26,284.39 L83.77,284.8 L84.28,285.23 L84.82,285.68 L85.38,286.16 L85.95,286.66 L86.54,287.17 L87.14,287.7 L87.75,288.23 L88.37,288.77 L88.99,289.3 L89.62,289.84 L90.26,290.37 L90.89,290.9 L91.52,291.41 L92.16,291.91 L92.79,292.4 L93.43,292.88 L94.07,293.36 L94.71,293.84 L95.36,294.31 L96.01,294.77 L96.66,295.23 L97.32,295.69 L97.98,296.14 L98.64,296.59 L99.31,297.03 L99.98,297.48 L100.66,297.92 L101.36,298.37 L102.06,298.81 L102.77,299.25 L103.49,299.69 L104.2,300.13 L104.91,300.55 L105.61,300.97 L106.31,301.38 L106.99,301.77 L107.65,302.15 L108.3,302.51 L108.91,302.86 L109.51,303.19 L110.09,303.51 L110.65,303.81 L111.2,304.11 L111.75,304.39 L112.29,304.67 L112.84,304.94 L113.4,305.2 L113.96,305.46 L114.54,305.71 L115.14,305.96 L115.76,306.2 L116.41,306.44 L117.06,306.68 L117.73,306.9 L118.41,307.13 L119.08,307.34 L119.76,307.55 L120.43,307.75 L121.09,307.94 L121.73,308.13 L122.36,308.31 L122.97,308.47 L123.53,308.63 L124.06,308.78 L124.55,308.92 L125.03,309.05 L125.49,309.17 L125.96,309.29 L126.44,309.4 L126.93,309.51 L127.46,309.61 L128.02,309.72 L128.64,309.82 L129.32,309.93 L130.07,310.04 L130.87,310.15 L131.72,310.26 L132.62,310.37 L133.54,310.48 L134.49,310.59 L135.44,310.69 L136.4,310.79 L137.36,310.88 L138.29,310.97 L139.2,311.05 L140.08,311.12 L140.87,311.19 L141.54,311.25 L142.14,311.3 L142.69,311.35 L143.23,311.39 L143.81,311.43 L144.45,311.47 L145.19,311.5 L146.06,311.54 L147.11,311.57 L148.36,311.61 L149.86,311.65 L151.71,311.7 L153.96,311.75 L156.51,311.8 L159.28,311.85 L162.18,311.9 L165.14,311.95 L168.06,312 L170.87,312.05 L173.47,312.09 L175.78,312.13 L177.72,312.16 L179.2,312.18" stroke="#1f1fff" stroke-width="0.8" stroke-dasharray="0.8,0.8"/>
<path d="M37.39,310.06 L38.32,310.07 L39.46,310.08 L40.79,310.08 L42.28,310.09 L43.91,310.1 L45.64,310.11 L47.46,310.12 L49.34,310.13 L51.26,310.14 L53.18,310.16 L55.09,310.18 L56.95,310.2 L58.82,310.22 L60.74,310.25 L62.72,310.27 L64.74,310.3 L66.79,310.33 L68.87,310.36 L70.96,310.4 L73.07,310.43 L75.17,310.47 L77.27,310.51 L79.35,310.55 L81.4,310.59 L83.44,310.64 L85.47,310.69 L87.51,310.75 L89.55,310.8 L91.59,310.86 L93.62,310.92 L95.66,310.98 L97.7,311.04 L99.74,311.09 L101.78,311.15 L103.81,311.21 L105.85,311.26 L107.89,311.31 L109.92,311.36 L111.96,311.41 L114,311.45 L116.04,311.5 L118.08,311.55 L120.11,311.59 L122.15,311.64 L124.19,311.68 L126.22,311.72 L128.26,311.75 L130.3,311.79 L132.34,311.82 L134.38,311.85 L136.41,311.88 L138.45,311.9 L140.49,311.92 L142.52,311.94 L144.56,311.96 L146.6,311.98 L148.64,312 L150.67,312.02 L152.71,312.04 L154.75,312.05 L156.87,312.07 L159.11,312.08 L161.44,312.1 L163.81,312.11 L166.18,312.12 L168.5,312.14 L170.75,312.15 L172.86,312.16 L174.81,312.16 L176.54,312.17 L178.02,312.18 L179.2,312.18" stroke="#1f1fff" stroke-width="1.15" stroke-dasharray="2.6,1.1"/>
<path d="M37.39,302.25 L38.1,302.26 L38.99,302.28 L40.03,302.3 L41.19,302.33 L42.46,302.35 L43.81,302.38 L45.2,302.41 L46.63,302.45 L48.05,302.49 L49.45,302.54 L50.79,302.59 L52.06,302.64 L53.28,302.71 L54.5,302.77 L55.73,302.84 L56.95,302.92 L58.17,303 L59.4,303.08 L60.62,303.17 L61.84,303.27 L63.06,303.37 L64.28,303.47 L65.51,303.59 L66.73,303.7 L67.94,303.83 L69.13,303.96 L70.31,304.09 L71.48,304.24 L72.64,304.38 L73.82,304.53 L75.01,304.69 L76.22,304.85 L77.46,305.02 L78.73,305.2 L80.04,305.38 L81.4,305.56 L82.82,305.76 L84.3,305.96 L85.84,306.18 L87.41,306.41 L89.01,306.64 L90.63,306.88 L92.25,307.11 L93.86,307.35 L95.45,307.58 L97.01,307.8 L98.52,308.01 L99.98,308.21 L101.39,308.4 L102.77,308.59 L104.12,308.78 L105.45,308.96 L106.76,309.13 L108.05,309.3 L109.33,309.47 L110.6,309.63 L111.86,309.78 L113.11,309.93 L114.37,310.07 L115.63,310.2 L116.86,310.32 L118.02,310.43 L119.14,310.54 L120.23,310.63 L121.32,310.73 L122.41,310.81 L123.54,310.89 L124.72,310.97 L125.97,311.04 L127.3,311.11 L128.74,311.19 L130.3,311.26 L132,311.33 L133.81,311.4 L135.72,311.46 L137.73,311.52 L139.79,311.58 L141.91,311.64 L144.07,311.69 L146.24,311.74 L148.41,311.79 L150.56,311.84 L152.68,311.88 L154.75,311.92 L156.87,311.96 L159.11,311.99 L161.44,312.02 L163.81,312.05 L166.18,312.07 L168.5,312.09 L170.75,312.11 L172.86,312.13 L174.81,312.15 L176.54,312.16 L178.02,312.17 L179.2,312.18" stroke="#1f1fff" stroke-width="1.15" stroke-dasharray="4.2,1.1,1,1.1"/>
<path d="M37.39,367.97 L38,367.9 L38.77,367.83 L39.67,367.75 L40.69,367.66 L41.79,367.56 L42.95,367.45 L44.16,367.32 L45.4,367.19 L46.63,367.04 L47.84,366.88 L49,366.7 L50.1,366.51 L51.17,366.31 L52.23,366.09 L53.29,365.86 L54.36,365.62 L55.43,365.36 L56.49,365.09 L57.56,364.81 L58.62,364.52 L59.67,364.21 L60.73,363.89 L61.78,363.55 L62.82,363.2 L63.85,362.83 L64.88,362.46 L65.91,362.07 L66.93,361.67 L67.95,361.25 L68.96,360.82 L69.97,360.38 L70.99,359.91 L72,359.44 L73.01,358.94 L74.03,358.43 L75.04,357.9 L76.06,357.35 L77.07,356.78 L78.09,356.2 L79.1,355.6 L80.11,354.98 L81.12,354.34 L82.14,353.7 L83.16,353.03 L84.18,352.35 L85.2,351.65 L86.23,350.94 L87.27,350.21 L88.3,349.47 L89.33,348.7 L90.35,347.91 L91.38,347.11 L92.41,346.29 L93.44,345.46 L94.49,344.61 L95.54,343.76 L96.62,342.9 L97.72,342.03 L98.84,341.15 L99.98,340.27 L101.16,339.38 L102.38,338.46 L103.62,337.52 L104.89,336.56 L106.17,335.6 L107.47,334.64 L108.77,333.67 L110.07,332.72 L111.36,331.79 L112.64,330.88 L113.9,329.99 L115.14,329.14 L116.37,328.32 L117.6,327.49 L118.84,326.68 L120.07,325.88 L121.29,325.09 L122.51,324.33 L123.71,323.58 L124.88,322.87 L126.04,322.19 L127.17,321.55 L128.26,320.95 L129.32,320.4 L130.34,319.9 L131.32,319.44 L132.28,319.03 L133.2,318.65 L134.1,318.31 L134.98,318 L135.84,317.71 L136.69,317.44 L137.54,317.18 L138.38,316.92 L139.23,316.68 L140.08,316.42 L140.91,316.18 L141.71,315.96 L142.48,315.75 L143.23,315.56 L143.98,315.38 L144.73,315.22 L145.49,315.06 L146.27,314.9 L147.09,314.75 L147.96,314.61 L148.88,314.46 L149.86,314.3 L150.91,314.15 L152.02,314 L153.18,313.85 L154.39,313.7 L155.63,313.55 L156.89,313.41 L158.17,313.28 L159.46,313.15 L160.75,313.03 L162.03,312.91 L163.29,312.81 L164.53,312.71 L165.8,312.63 L167.14,312.56 L168.54,312.5 L169.96,312.44 L171.39,312.39 L172.78,312.35 L174.13,312.31 L175.4,312.28 L176.56,312.26 L177.6,312.23 L178.49,312.21 L179.2,312.18" stroke="#1f1fff" stroke-width="1.2"/>
</g>
<circle cx="129.3" cy="320.2" r="1.9" fill="#0000ee"/>
<rect x="142.2" y="329" width="38.4" height="47" rx="1.6" fill="#fff" fill-opacity="0.8" stroke="#d0d0d0" stroke-width="0.6"/>
<line x1="145.4" y1="336" x2="161" y2="336" stroke="#1f1fff" stroke-width="0.8" stroke-dasharray="0.8,0.8"/>
<text x="167.2" y="338" font-size="9" font-style="italic" fill="#111">γ</text>
<line x1="145.4" y1="346.75" x2="161" y2="346.75" stroke="#1f1fff" stroke-width="1.0"/>
<text x="167.2" y="348.75" font-size="9" font-style="italic" fill="#111">γ<tspan font-size="5.4" dy="1.6">Pv</tspan></text>
<line x1="145.4" y1="357.5" x2="161" y2="357.5" stroke="#1f1fff" stroke-width="1.0" stroke-dasharray="2.6,1.1"/>
<text x="167.2" y="359.5" font-size="9" font-style="italic" fill="#111">γ<tspan font-size="5.4" dy="1.6">Tv</tspan></text>
<line x1="145.4" y1="368.25" x2="161" y2="368.25" stroke="#1f1fff" stroke-width="1.0" stroke-dasharray="4.2,1.1,1,1.1"/>
<text x="167.2" y="370.25" font-size="9" font-style="italic" fill="#111">γ<tspan font-size="5.4" dy="1.6">PT</tspan></text>
<g clip-path="url(#c2)" fill="none">
<line x1="129.3" y1="384.1" x2="129.3" y2="490.3" stroke="#777" stroke-width="0.6" stroke-dasharray="0.8,0.9"/>
<path d="M37.39,480.87 L38,480.64 L38.75,480.38 L39.63,480.09 L40.61,479.77 L41.69,479.41 L42.83,479.01 L44.02,478.57 L45.25,478.08 L46.49,477.53 L47.72,476.93 L48.94,476.27 L50.1,475.55 L51.25,474.77 L52.41,473.96 L53.59,473.1 L54.78,472.19 L55.98,471.23 L57.19,470.21 L58.42,469.13 L59.67,467.99 L60.92,466.78 L62.19,465.5 L63.48,464.15 L64.77,462.72 L66.08,461.18 L67.41,459.53 L68.75,457.78 L70.1,455.95 L71.46,454.05 L72.84,452.09 L74.23,450.11 L75.64,448.1 L77.06,446.09 L78.49,444.08 L79.94,442.11 L81.4,440.18 L82.89,438.24 L84.42,436.24 L85.99,434.2 L87.58,432.13 L89.18,430.07 L90.78,428.01 L92.38,425.99 L93.97,424.02 L95.53,422.12 L97.06,420.31 L98.55,418.6 L99.98,417.02 L101.37,415.55 L102.72,414.17 L104.04,412.87 L105.32,411.64 L106.59,410.48 L107.84,409.39 L109.07,408.35 L110.29,407.37 L111.5,406.44 L112.71,405.55 L113.92,404.69 L115.14,403.87 L116.37,403.08 L117.6,402.34 L118.84,401.63 L120.07,400.97 L121.29,400.36 L122.51,399.8 L123.71,399.29 L124.88,398.84 L126.04,398.44 L127.17,398.1 L128.26,397.83 L129.32,397.61 L130.34,397.48 L131.32,397.43 L132.28,397.45 L133.2,397.54 L134.1,397.69 L134.98,397.89 L135.84,398.12 L136.69,398.38 L137.54,398.65 L138.38,398.94 L139.23,399.22 L140.08,399.49 L140.91,399.76 L141.7,400.03 L142.47,400.32 L143.21,400.63 L143.95,400.95 L144.69,401.29 L145.45,401.65 L146.24,402.04 L147.06,402.45 L147.93,402.9 L148.86,403.37 L149.86,403.87 L150.94,404.42 L152.09,405 L153.29,405.63 L154.55,406.28 L155.84,406.96 L157.16,407.67 L158.5,408.38 L159.84,409.11 L161.17,409.84 L162.49,410.57 L163.77,411.3 L165.02,412.01 L166.28,412.75 L167.6,413.54 L168.97,414.36 L170.34,415.21 L171.72,416.06 L173.06,416.9 L174.35,417.71 L175.56,418.48 L176.67,419.18 L177.67,419.81 L178.52,420.35 L179.2,420.77" stroke="#1f1fff" stroke-width="1.2"/>
</g>
<circle cx="129.3" cy="397.61" r="1.9" fill="#0000ee"/>
<g clip-path="url(#c3)" fill="none">
<path d="M227.7,279.18 L228.29,279.24 L229.02,279.31 L229.87,279.39 L230.82,279.48 L231.86,279.58 L232.97,279.69 L234.13,279.81 L235.32,279.94 L236.54,280.08 L237.75,280.22 L238.94,280.38 L240.1,280.55 L241.25,280.72 L242.42,280.9 L243.62,281.08 L244.83,281.27 L246.06,281.47 L247.31,281.68 L248.57,281.9 L249.84,282.14 L251.11,282.4 L252.4,282.67 L253.69,282.97 L254.98,283.29 L256.27,283.63 L257.57,283.97 L258.86,284.32 L260.17,284.69 L261.48,285.08 L262.81,285.48 L264.14,285.91 L265.5,286.37 L266.87,286.85 L268.26,287.38 L269.67,287.93 L271.1,288.53 L272.57,289.17 L274.09,289.87 L275.65,290.61 L277.23,291.38 L278.83,292.18 L280.44,293.01 L282.04,293.86 L283.64,294.71 L285.21,295.58 L286.75,296.44 L288.25,297.29 L289.7,298.13 L291.1,298.96 L292.47,299.79 L293.81,300.61 L295.12,301.44 L296.41,302.28 L297.68,303.12 L298.94,303.97 L300.19,304.84 L301.44,305.72 L302.69,306.62 L303.94,307.54 L305.2,308.48 L306.45,309.43 L307.66,310.38 L308.85,311.33 L310.02,312.3 L311.19,313.27 L312.37,314.27 L313.56,315.3 L314.78,316.36 L316.03,317.46 L317.32,318.61 L318.67,319.81 L320.08,321.08 L321.56,322.4 L323.1,323.77 L324.69,325.18 L326.33,326.65 L328,328.15 L329.69,329.69 L331.4,331.26 L333.12,332.87 L334.84,334.5 L336.56,336.16 L338.25,337.84 L339.92,339.53 L341.6,341.29 L343.33,343.15 L345.1,345.08 L346.88,347.07 L348.66,349.08 L350.42,351.1 L352.15,353.1 L353.84,355.05 L355.45,356.94 L356.99,358.74 L358.43,360.43 L359.76,361.98 L361,363.43 L362.18,364.84 L363.3,366.19 L364.35,367.48 L365.34,368.71 L366.27,369.87 L367.13,370.94 L367.91,371.94 L368.62,372.84 L369.26,373.65 L369.82,374.35 L370.3,374.95" stroke="#ff1a1a" stroke-width="0.95" stroke-dasharray="3,1.3"/>
<path d="M227.7,279.18 L228.29,279.24 L229.02,279.31 L229.87,279.39 L230.82,279.48 L231.86,279.58 L232.97,279.69 L234.13,279.81 L235.32,279.94 L236.54,280.08 L237.75,280.22 L238.94,280.38 L240.1,280.55 L241.25,280.72 L242.42,280.9 L243.62,281.08 L244.83,281.27 L246.06,281.47 L247.31,281.68 L248.57,281.9 L249.84,282.14 L251.11,282.4 L252.4,282.67 L253.69,282.97 L254.98,283.29 L256.27,283.63 L257.57,283.97 L258.86,284.32 L260.17,284.69 L261.48,285.08 L262.81,285.48 L264.14,285.91 L265.5,286.37 L266.87,286.85 L268.26,287.38 L269.67,287.93 L271.1,288.53 L272.57,289.17 L274.09,289.87 L275.65,290.61 L277.23,291.38 L278.83,292.19 L280.44,293.02 L282.04,293.87 L283.64,294.72 L285.21,295.58 L286.75,296.44 L288.25,297.3 L289.7,298.13 L291.1,298.96 L292.47,299.78 L293.81,300.6 L295.12,301.42 L296.41,302.25 L297.68,303.08 L298.94,303.92 L300.19,304.78 L301.44,305.65 L302.69,306.53 L303.94,307.43 L305.2,308.36 L306.45,309.29 L307.66,310.22 L308.85,311.15 L310.02,312.09 L311.19,313.05 L312.37,314.02 L313.56,315.02 L314.78,316.05 L316.03,317.12 L317.32,318.22 L318.67,319.37 L320.08,320.58 L321.56,321.83 L323.1,323.14 L324.69,324.49 L326.33,325.88 L328,327.3 L329.69,328.76 L331.4,330.24 L333.12,331.75 L334.84,333.27 L336.56,334.81 L338.25,336.36 L339.92,337.91 L341.6,339.51 L343.33,341.19 L345.1,342.93 L346.88,344.71 L348.66,346.51 L350.42,348.3 L352.15,350.07 L353.84,351.8 L355.45,353.46 L356.99,355.04 L358.43,356.51 L359.76,357.86 L361,359.11 L362.18,360.31 L363.3,361.44 L364.35,362.52 L365.34,363.53 L366.27,364.47 L367.13,365.35 L367.91,366.15 L368.62,366.88 L369.26,367.53 L369.82,368.1 L370.3,368.59" stroke="#ff1a1a" stroke-width="1.15"/>
</g>
<rect x="225.2" y="348.7" width="140.8" height="27.4" rx="1.6" fill="#fff" fill-opacity="0.8" stroke="#d0d0d0" stroke-width="0.6"/>
<line x1="228.4" y1="355.2" x2="245.4" y2="355.2" stroke="#ff1a1a" stroke-width="1"/>
<line x1="228.4" y1="367.8" x2="245.4" y2="367.8" stroke="#ff1a1a" stroke-width="0.95" stroke-dasharray="3,1.3"/>
<text x="251.8" y="357.8" font-size="8.2" fill="#111">RefProp</text>
<text x="251.8" y="370.4" font-size="8.2" fill="#111">Equation (27) with <tspan font-style="italic" font-size="8.4">γ</tspan><tspan font-size="5.4" dy="1.6" font-style="italic">Pv</tspan><tspan font-size="5.4">, 1</tspan><tspan dy="-1.6"> and </tspan><tspan font-style="italic" font-size="8.4">γ</tspan><tspan font-size="5.4" dy="1.6" font-style="italic">Tv</tspan><tspan font-size="5.4">, 1</tspan></text>
<g clip-path="url(#c4)" fill="none">
<line x1="227.7" y1="437.2" x2="370.3" y2="437.2" stroke="#aaa" stroke-width="0.9" stroke-dasharray="3.2,1.1,0.9,1.1"/>
<path d="M227.7,412.27 L229.28,414.99 L230.87,417.14 L232.45,418.88 L234.04,420.32 L235.62,421.52 L237.21,422.53 L238.79,423.4 L240.38,424.15 L241.96,424.8 L243.54,425.37 L245.13,425.87 L246.71,426.31 L248.3,426.71 L249.88,427.05 L251.47,427.36 L253.05,427.63 L254.64,427.88 L256.22,428.09 L257.8,428.29 L259.39,428.46 L260.97,428.61 L262.56,428.74 L264.14,428.86 L265.73,428.96 L267.31,429.04 L268.9,429.12 L270.48,429.18 L272.06,429.22 L273.65,429.26 L275.23,429.28 L276.82,429.3 L278.4,429.3 L279.99,429.29 L281.57,429.26 L283.16,429.23 L284.74,429.19 L286.32,429.14 L287.91,429.08 L289.49,429.01 L291.08,428.93 L292.66,428.85 L294.25,428.75 L295.83,428.64 L297.42,428.52 L299,428.4 L300.58,428.26 L302.17,428.11 L303.75,427.95 L305.34,427.78 L306.92,427.59 L308.51,427.4 L310.09,427.19 L311.68,426.97 L313.26,426.73 L314.84,426.48 L316.43,426.22 L318.01,425.94 L319.6,425.64 L321.18,425.32 L322.77,424.99 L324.35,424.64 L325.94,424.26 L327.52,423.85 L329.1,423.42 L330.69,422.95 L332.27,422.44 L333.86,421.9 L335.44,421.32 L337.03,420.69 L338.61,420.02 L340.2,419.29 L341.78,418.51 L343.36,417.67 L344.95,416.77 L346.53,415.8 L348.12,414.76 L349.7,413.65 L351.29,412.45 L352.87,411.17 L354.46,409.8 L356.04,408.34 L357.62,406.78 L359.21,405.11 L360.79,403.32 L362.38,401.42 L363.96,399.4 L365.55,397.24 L367.13,394.94 L368.72,392.5 L370.3,389.9" stroke="#ff1a1a" stroke-width="0.95" stroke-dasharray="3,1.3"/>
<path d="M227.7,412.27 L229.28,414.99 L230.87,417.14 L232.45,418.88 L234.04,420.32 L235.62,421.52 L237.21,422.53 L238.79,423.4 L240.38,424.15 L241.96,424.8 L243.54,425.37 L245.13,425.87 L246.71,426.31 L248.3,426.71 L249.88,427.05 L251.47,427.36 L253.05,427.63 L254.64,427.88 L256.22,428.09 L257.8,428.29 L259.39,428.46 L260.97,428.61 L262.56,428.74 L264.14,428.86 L265.73,428.96 L267.31,429.04 L268.9,429.12 L270.48,429.18 L272.06,429.22 L273.65,429.26 L275.23,429.28 L276.82,429.3 L278.4,429.3 L279.99,429.29 L281.57,429.26 L283.16,429.23 L284.74,429.19 L286.32,429.14 L287.91,429.08 L289.49,429.01 L291.08,428.93 L292.66,428.85 L294.25,428.75 L295.83,428.64 L297.42,428.52 L299,428.4 L300.58,428.26 L302.17,428.11 L303.75,427.95 L305.34,427.78 L306.92,427.59 L308.51,427.4 L310.09,427.19 L311.68,426.97 L313.26,426.73 L314.84,426.48 L316.43,426.22 L318.01,425.94 L319.6,425.64 L321.18,425.32 L322.77,424.99 L324.35,424.64 L325.94,424.27 L327.52,423.87 L329.1,423.46 L330.69,423.02 L332.27,422.55 L333.86,422.06 L335.44,421.54 L337.03,420.99 L338.61,420.41 L340.2,419.8 L341.78,419.15 L343.36,418.46 L344.95,417.74 L346.53,416.97 L348.12,416.16 L349.7,415.3 L351.29,414.4 L352.87,413.43 L354.46,412.42 L356.04,411.34 L357.62,410.2 L359.21,408.99 L360.79,407.71 L362.38,406.35 L363.96,404.9 L365.55,403.37 L367.13,401.75 L368.72,400.02 L370.3,398.19" stroke="#ff1a1a" stroke-width="1.05"/>
<path d="M227.7,462.13 L229.28,459.41 L230.87,457.26 L232.45,455.52 L234.04,454.08 L235.62,452.88 L237.21,451.87 L238.79,451 L240.38,450.25 L241.96,449.6 L243.54,449.03 L245.13,448.53 L246.71,448.09 L248.3,447.69 L249.88,447.35 L251.47,447.04 L253.05,446.77 L254.64,446.52 L256.22,446.31 L257.8,446.11 L259.39,445.94 L260.97,445.79 L262.56,445.66 L264.14,445.54 L265.73,445.44 L267.31,445.36 L268.9,445.28 L270.48,445.22 L272.06,445.18 L273.65,445.14 L275.23,445.12 L276.82,445.1 L278.4,445.1 L279.99,445.11 L281.57,445.14 L283.16,445.17 L284.74,445.21 L286.32,445.26 L287.91,445.32 L289.49,445.39 L291.08,445.47 L292.66,445.55 L294.25,445.65 L295.83,445.76 L297.42,445.88 L299,446 L300.58,446.14 L302.17,446.29 L303.75,446.45 L305.34,446.62 L306.92,446.81 L308.51,447 L310.09,447.21 L311.68,447.43 L313.26,447.67 L314.84,447.92 L316.43,448.18 L318.01,448.46 L319.6,448.76 L321.18,449.08 L322.77,449.41 L324.35,449.76 L325.94,450.14 L327.52,450.55 L329.1,450.98 L330.69,451.45 L332.27,451.96 L333.86,452.5 L335.44,453.08 L337.03,453.71 L338.61,454.38 L340.2,455.11 L341.78,455.89 L343.36,456.73 L344.95,457.63 L346.53,458.6 L348.12,459.64 L349.7,460.75 L351.29,461.95 L352.87,463.23 L354.46,464.6 L356.04,466.06 L357.62,467.62 L359.21,469.29 L360.79,471.08 L362.38,472.98 L363.96,475 L365.55,477.16 L367.13,479.46 L368.72,481.9 L370.3,484.5" stroke="#ff1a1a" stroke-width="0.95" stroke-dasharray="3,1.3"/>
<path d="M227.7,462.13 L229.28,459.41 L230.87,457.26 L232.45,455.52 L234.04,454.08 L235.62,452.88 L237.21,451.87 L238.79,451 L240.38,450.25 L241.96,449.6 L243.54,449.03 L245.13,448.53 L246.71,448.09 L248.3,447.69 L249.88,447.35 L251.47,447.04 L253.05,446.77 L254.64,446.52 L256.22,446.31 L257.8,446.11 L259.39,445.94 L260.97,445.79 L262.56,445.66 L264.14,445.54 L265.73,445.44 L267.31,445.36 L268.9,445.28 L270.48,445.22 L272.06,445.18 L273.65,445.14 L275.23,445.12 L276.82,445.1 L278.4,445.1 L279.99,445.11 L281.57,445.14 L283.16,445.17 L284.74,445.21 L286.32,445.26 L287.91,445.32 L289.49,445.39 L291.08,445.47 L292.66,445.55 L294.25,445.65 L295.83,445.76 L297.42,445.88 L299,446 L300.58,446.14 L302.17,446.29 L303.75,446.45 L305.34,446.62 L306.92,446.81 L308.51,447 L310.09,447.21 L311.68,447.43 L313.26,447.67 L314.84,447.92 L316.43,448.18 L318.01,448.46 L319.6,448.76 L321.18,449.08 L322.77,449.41 L324.35,449.76 L325.94,450.13 L327.52,450.53 L329.1,450.94 L330.69,451.38 L332.27,451.85 L333.86,452.34 L335.44,452.86 L337.03,453.41 L338.61,453.99 L340.2,454.6 L341.78,455.25 L343.36,455.94 L344.95,456.66 L346.53,457.43 L348.12,458.24 L349.7,459.1 L351.29,460 L352.87,460.97 L354.46,461.98 L356.04,463.06 L357.62,464.2 L359.21,465.41 L360.79,466.69 L362.38,468.05 L363.96,469.5 L365.55,471.03 L367.13,472.65 L368.72,474.38 L370.3,476.21" stroke="#ff1a1a" stroke-width="1.05"/>
</g>
<rect x="225.2" y="459.6" width="127.5" height="27.4" rx="1.6" fill="#fff" fill-opacity="0.8" stroke="#d0d0d0" stroke-width="0.6"/>
<line x1="228.4" y1="466.1" x2="245.4" y2="466.1" stroke="#ff1a1a" stroke-width="1"/>
<line x1="228.4" y1="478" x2="245.4" y2="478" stroke="#ff1a1a" stroke-width="0.95" stroke-dasharray="3,1.3"/>
<text x="251.8" y="468.8" font-size="8.2" fill="#111">RefProp</text>
<text x="251.8" y="480.6" font-size="8.2" fill="#111">Equation (33) with <tspan font-style="italic" font-size="8.4">γ</tspan><tspan font-size="5.4" dy="1.6" font-style="italic">Pv</tspan><tspan dy="-1.6"> = </tspan><tspan font-style="italic" font-size="8.4">γ</tspan><tspan font-size="5.4" dy="1.6" font-style="italic">Pv</tspan><tspan font-size="5.4">, 1</tspan></text>
<rect x="28.1" y="273.5" width="156.4" height="107" fill="none" stroke="#222" stroke-width="0.7"/>
<rect x="28.1" y="384.1" width="156.4" height="106.2" fill="none" stroke="#222" stroke-width="0.7"/>
<rect x="221.4" y="273.5" width="156.1" height="107" fill="none" stroke="#222" stroke-width="0.7"/>
<rect x="221.4" y="384.1" width="156.1" height="106.2" fill="none" stroke="#222" stroke-width="0.7"/>
<g stroke="#222" stroke-width="0.55">
<line x1="32.5" y1="380.5" x2="32.5" y2="383.3"/>
<line x1="32.5" y1="490.3" x2="32.5" y2="493.1"/>
<line x1="44.73" y1="380.5" x2="44.73" y2="382.1"/>
<line x1="44.73" y1="490.3" x2="44.73" y2="491.9"/>
<line x1="56.95" y1="380.5" x2="56.95" y2="382.1"/>
<line x1="56.95" y1="490.3" x2="56.95" y2="491.9"/>
<line x1="69.17" y1="380.5" x2="69.17" y2="382.1"/>
<line x1="69.17" y1="490.3" x2="69.17" y2="491.9"/>
<line x1="81.4" y1="380.5" x2="81.4" y2="383.3"/>
<line x1="81.4" y1="490.3" x2="81.4" y2="493.1"/>
<line x1="93.62" y1="380.5" x2="93.62" y2="382.1"/>
<line x1="93.62" y1="490.3" x2="93.62" y2="491.9"/>
<line x1="105.85" y1="380.5" x2="105.85" y2="382.1"/>
<line x1="105.85" y1="490.3" x2="105.85" y2="491.9"/>
<line x1="118.08" y1="380.5" x2="118.08" y2="382.1"/>
<line x1="118.08" y1="490.3" x2="118.08" y2="491.9"/>
<line x1="130.3" y1="380.5" x2="130.3" y2="383.3"/>
<line x1="130.3" y1="490.3" x2="130.3" y2="493.1"/>
<line x1="142.52" y1="380.5" x2="142.52" y2="382.1"/>
<line x1="142.52" y1="490.3" x2="142.52" y2="491.9"/>
<line x1="154.75" y1="380.5" x2="154.75" y2="382.1"/>
<line x1="154.75" y1="490.3" x2="154.75" y2="491.9"/>
<line x1="166.97" y1="380.5" x2="166.97" y2="382.1"/>
<line x1="166.97" y1="490.3" x2="166.97" y2="491.9"/>
<line x1="179.2" y1="380.5" x2="179.2" y2="383.3"/>
<line x1="179.2" y1="490.3" x2="179.2" y2="493.1"/>
<line x1="28.1" y1="380.02" x2="26.5" y2="380.02"/>
<line x1="28.1" y1="373.4" x2="25.3" y2="373.4"/>
<line x1="28.1" y1="366.77" x2="26.5" y2="366.77"/>
<line x1="28.1" y1="360.15" x2="26.5" y2="360.15"/>
<line x1="28.1" y1="353.52" x2="26.5" y2="353.52"/>
<line x1="28.1" y1="346.9" x2="25.3" y2="346.9"/>
<line x1="28.1" y1="340.27" x2="26.5" y2="340.27"/>
<line x1="28.1" y1="333.65" x2="26.5" y2="333.65"/>
<line x1="28.1" y1="327.02" x2="26.5" y2="327.02"/>
<line x1="28.1" y1="320.4" x2="25.3" y2="320.4"/>
<line x1="28.1" y1="313.77" x2="26.5" y2="313.77"/>
<line x1="28.1" y1="307.15" x2="26.5" y2="307.15"/>
<line x1="28.1" y1="300.52" x2="26.5" y2="300.52"/>
<line x1="28.1" y1="293.9" x2="25.3" y2="293.9"/>
<line x1="28.1" y1="287.27" x2="26.5" y2="287.27"/>
<line x1="28.1" y1="280.65" x2="26.5" y2="280.65"/>
<line x1="28.1" y1="274.02" x2="26.5" y2="274.02"/>
<line x1="28.1" y1="484" x2="25.3" y2="484"/>
<line x1="28.1" y1="452.7" x2="25.3" y2="452.7"/>
<line x1="28.1" y1="421.4" x2="25.3" y2="421.4"/>
<line x1="28.1" y1="390.1" x2="25.3" y2="390.1"/>
<line x1="230.8" y1="380.5" x2="230.8" y2="382.1"/>
<line x1="230.8" y1="490.3" x2="230.8" y2="491.9"/>
<line x1="246.3" y1="380.5" x2="246.3" y2="383.3"/>
<line x1="246.3" y1="490.3" x2="246.3" y2="493.1"/>
<line x1="261.8" y1="380.5" x2="261.8" y2="382.1"/>
<line x1="261.8" y1="490.3" x2="261.8" y2="491.9"/>
<line x1="277.3" y1="380.5" x2="277.3" y2="383.3"/>
<line x1="277.3" y1="490.3" x2="277.3" y2="493.1"/>
<line x1="292.8" y1="380.5" x2="292.8" y2="382.1"/>
<line x1="292.8" y1="490.3" x2="292.8" y2="491.9"/>
<line x1="308.3" y1="380.5" x2="308.3" y2="383.3"/>
<line x1="308.3" y1="490.3" x2="308.3" y2="493.1"/>
<line x1="323.8" y1="380.5" x2="323.8" y2="382.1"/>
<line x1="323.8" y1="490.3" x2="323.8" y2="491.9"/>
<line x1="339.3" y1="380.5" x2="339.3" y2="383.3"/>
<line x1="339.3" y1="490.3" x2="339.3" y2="493.1"/>
<line x1="354.8" y1="380.5" x2="354.8" y2="382.1"/>
<line x1="354.8" y1="490.3" x2="354.8" y2="491.9"/>
<line x1="370.3" y1="380.5" x2="370.3" y2="383.3"/>
<line x1="370.3" y1="490.3" x2="370.3" y2="493.1"/>
<line x1="221.4" y1="365.22" x2="218.6" y2="365.22"/>
<line x1="221.4" y1="340.28" x2="218.6" y2="340.28"/>
<line x1="221.4" y1="315.34" x2="218.6" y2="315.34"/>
<line x1="221.4" y1="290.4" x2="218.6" y2="290.4"/>
<line x1="221.4" y1="488.55" x2="219.8" y2="488.55"/>
<line x1="221.4" y1="484.6" x2="219.8" y2="484.6"/>
<line x1="221.4" y1="480.65" x2="219.8" y2="480.65"/>
<line x1="221.4" y1="476.7" x2="218.6" y2="476.7"/>
<line x1="221.4" y1="472.75" x2="219.8" y2="472.75"/>
<line x1="221.4" y1="468.8" x2="219.8" y2="468.8"/>
<line x1="221.4" y1="464.85" x2="219.8" y2="464.85"/>
<line x1="221.4" y1="460.9" x2="219.8" y2="460.9"/>
<line x1="221.4" y1="456.95" x2="218.6" y2="456.95"/>
<line x1="221.4" y1="453" x2="219.8" y2="453"/>
<line x1="221.4" y1="449.05" x2="219.8" y2="449.05"/>
<line x1="221.4" y1="445.1" x2="219.8" y2="445.1"/>
<line x1="221.4" y1="441.15" x2="219.8" y2="441.15"/>
<line x1="221.4" y1="437.2" x2="218.6" y2="437.2"/>
<line x1="221.4" y1="433.25" x2="219.8" y2="433.25"/>
<line x1="221.4" y1="429.3" x2="219.8" y2="429.3"/>
<line x1="221.4" y1="425.35" x2="219.8" y2="425.35"/>
<line x1="221.4" y1="421.4" x2="219.8" y2="421.4"/>
<line x1="221.4" y1="417.45" x2="218.6" y2="417.45"/>
<line x1="221.4" y1="413.5" x2="219.8" y2="413.5"/>
<line x1="221.4" y1="409.55" x2="219.8" y2="409.55"/>
<line x1="221.4" y1="405.6" x2="219.8" y2="405.6"/>
<line x1="221.4" y1="401.65" x2="219.8" y2="401.65"/>
<line x1="221.4" y1="397.7" x2="218.6" y2="397.7"/>
<line x1="221.4" y1="393.75" x2="219.8" y2="393.75"/>
<line x1="221.4" y1="389.8" x2="219.8" y2="389.8"/>
<line x1="221.4" y1="385.85" x2="219.8" y2="385.85"/>
</g>
<g font-size="8.2" fill="#111" stroke="#111" stroke-width="0.18">
<text x="23.4" y="376.2" text-anchor="end">0.6</text>
<text x="23.4" y="349.7" text-anchor="end">0.8</text>
<text x="23.4" y="323.2" text-anchor="end">1.0</text>
<text x="23.4" y="296.7" text-anchor="end">1.2</text>
<text x="23.4" y="486.8" text-anchor="end">30</text>
<text x="23.4" y="455.5" text-anchor="end">35</text>
<text x="23.4" y="424.2" text-anchor="end">40</text>
<text x="23.4" y="392.9" text-anchor="end">45</text>
<text x="32.5" y="501" text-anchor="middle">0</text>
<text x="81.4" y="501" text-anchor="middle">1</text>
<text x="130.3" y="501" text-anchor="middle">2</text>
<text x="179.2" y="501" text-anchor="middle">3</text>
<text x="217.6" y="368.02" text-anchor="end">120</text>
<text x="217.6" y="343.08" text-anchor="end">140</text>
<text x="217.6" y="318.14" text-anchor="end">160</text>
<text x="217.6" y="293.2" text-anchor="end">180</text>
<text x="217.6" y="400.5" text-anchor="end">5.0</text>
<text x="217.6" y="420.25" text-anchor="end">2.5</text>
<text x="217.6" y="440" text-anchor="end">0.0</text>
<text x="217.6" y="459.75" text-anchor="end">−2.5</text>
<text x="217.6" y="479.5" text-anchor="end">−5.0</text>
<text x="246.3" y="501" text-anchor="middle">0.5</text>
<text x="277.3" y="501" text-anchor="middle">1.0</text>
<text x="308.3" y="501" text-anchor="middle">1.5</text>
<text x="339.3" y="501" text-anchor="middle">2.0</text>
<text x="370.3" y="501" text-anchor="middle">2.5</text>
<text x="106" y="510.4" text-anchor="middle">Mach number</text>
<text x="299.7" y="510.4" text-anchor="middle">Mach number</text>
<text transform="translate(9.4 327) rotate(-90)" text-anchor="middle" font-size="8.4">Isentropic exponents</text>
<text transform="translate(9.6 437.3) rotate(-90)" text-anchor="middle" font-size="8.4">Flow work <tspan font-style="italic">Pv</tspan> [kJ/kg]</text>
<text transform="translate(199.8 327) rotate(-90)" text-anchor="middle" font-size="8.4">Temperature <tspan font-style="italic">T</tspan> [°C]</text>
<text transform="translate(197 438) rotate(-90)" text-anchor="middle" font-style="italic" font-size="7.4">A/A *</text>
</g>
<text x="105.8" y="270.6" font-size="9.4" fill="#1a1aff" stroke="#1a1aff" stroke-width="0.08" text-anchor="middle">Expansion 1</text>
<text x="299" y="270.6" font-size="9.4" fill="#ff1a1a" stroke="#ff1a1a" stroke-width="0.08" text-anchor="middle">Expansion 2</text>
<text x="192.6" y="545.8" font-size="8.2" fill="#222" text-anchor="middle">(<tspan font-weight="bold">b</tspan>)</text>
</svg></body></html>
